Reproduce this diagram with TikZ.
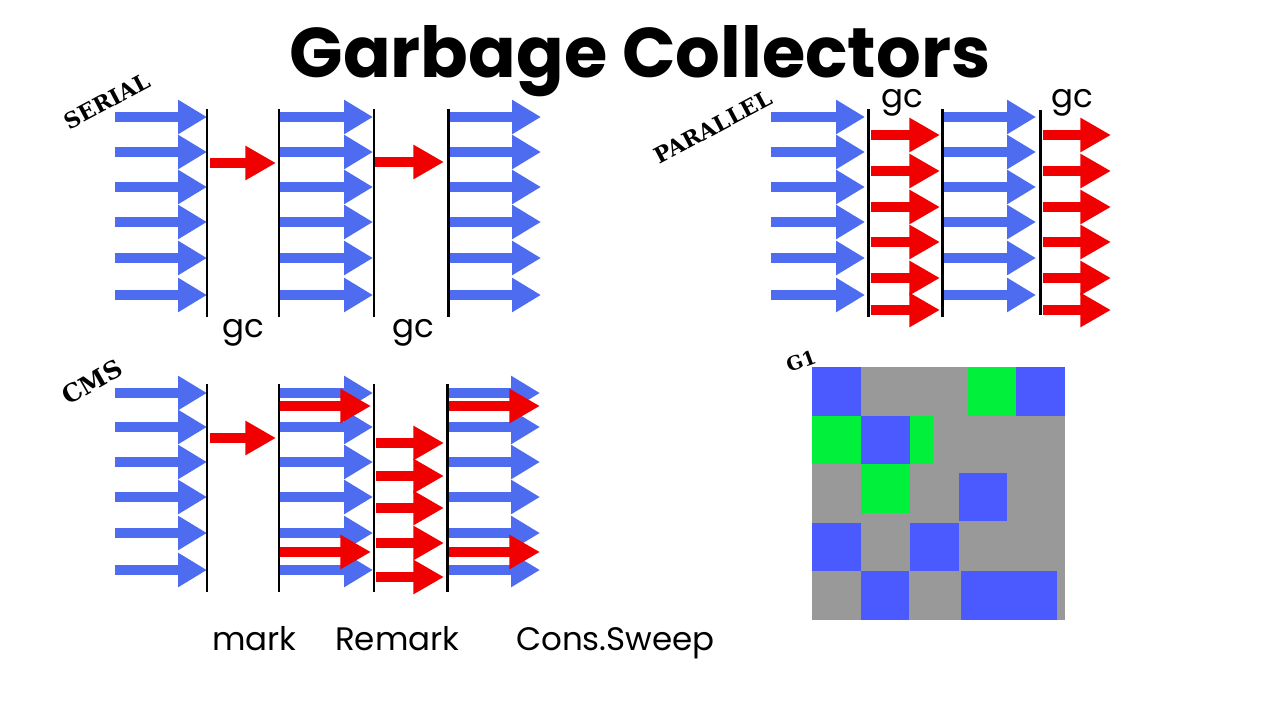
\documentclass[tikz,border=0pt]{standalone}
\usepackage{fontspec}
\setmainfont{Poppins}
\newfontfamily\stampfont{DejaVu Serif}
\usetikzlibrary{arrows.meta}
\definecolor{gcblue}{RGB}{78,108,240}
\definecolor{gcred}{RGB}{240,0,0}
\definecolor{tileblue}{RGB}{74,90,255}
\definecolor{tilegreen}{RGB}{0,240,60}
\definecolor{tilegray}{RGB}{153,153,153}
\begin{document}
\begin{tikzpicture}[x=0.02cm,y=-0.02cm,
  bluearr/.style={gcblue,line width=6.2pt,-{Triangle[length=16.5pt,width=18.5pt]}},
  redarr/.style={gcred,line width=6.2pt,-{Triangle[length=17.5pt,width=18.5pt]}},
  wall/.style={black,line width=1.7pt},
  stamp/.style={font=\stampfont\bfseries\fontsize{12.5}{12.5}\selectfont,rotate=28},
  lbl/.style={font=\fontsize{18.5}{20}\selectfont,anchor=base}]
\useasboundingbox (0,0) rectangle (1280,720);
\node[font=\bfseries\fontsize{40}{44}\selectfont,anchor=base] (title) at (640,77) {Garbage Collectors};
\node[stamp] (serial) at (107,101) {SERIAL};
\node[stamp] (parallel) at (713,127) {PARALLEL};
\node[stamp,rotate=2,font=\stampfont\bfseries\fontsize{14}{14}\selectfont] (cms) at (92,382) {CMS};
\node[stamp,rotate=-8,font=\stampfont\bfseries\fontsize{11}{11}\selectfont] (gone) at (801,361) {G1};
\foreach \y in {117,152,187,222,258,295} {
  \draw[bluearr] (115,\y) -- (207,\y);
  \draw[bluearr] (280,\y) -- (373,\y);
  \draw[bluearr] (448,\y) -- (541,\y);
}
\draw[redarr] (210,163) -- (276,163);
\draw[redarr] (375,162) -- (444,162);
\draw[wall] (207,109) -- (207,317);
\draw[wall] (279,109) -- (279,317);
\draw[wall] (374,109) -- (374,317);
\draw[wall] (448,109) -- (448,317);
\node[lbl] (gcA) at (243,337) {gc};
\node[lbl] (gcB) at (413,337) {gc};
\foreach \y in {117,152,187,222,258,295} {
  \draw[bluearr] (771,\y) -- (865,\y);
  \draw[bluearr] (944,\y) -- (1036,\y);
}
\foreach \y in {135,171,207,242,278,310} {
  \draw[redarr] (871,\y) -- (940,\y);
  \draw[redarr] (1043,\y) -- (1111,\y);
}
\draw[wall] (868,109) -- (868,317);
\draw[wall] (942,109) -- (942,317);
\draw[wall] (1040,110) -- (1040,315);
\node[lbl] (gcC) at (902,107) {gc};
\node[lbl] (gcD) at (1072,107) {gc};
\foreach \y in {393,427,462,497,533,570} {
  \draw[bluearr] (115,\y) -- (207,\y);
  \draw[bluearr] (280,\y) -- (373,\y);
  \draw[bluearr] (448,\y) -- (540,\y);
}
\draw[redarr] (210,438) -- (276,438);
\foreach \y in {406,552} {
  \draw[redarr] (280,\y) -- (371,\y);
  \draw[redarr] (448,\y) -- (540,\y);
}
\foreach \y in {443,476,508,543,577}
  \draw[redarr] (376,\y) -- (444,\y);
\draw[wall] (207,384) -- (207,592);
\draw[wall] (279,384) -- (279,592);
\draw[wall] (374,384) -- (374,592);
\draw[wall] (447,384) -- (447,592);
\node[lbl,anchor=base west] (mark) at (206,650) {mark};
\node[lbl,anchor=base west] (remark) at (329,650) {Remark};
\node[lbl,anchor=base west] (sweep) at (510,650) {Cons.Sweep};
\fill[tilegray] (812,367) rectangle (1065,620);
\fill[tileblue] (812,367) rectangle (861,416);
\fill[tilegreen] (968,367) rectangle (1016,416);
\fill[tileblue] (1016,367) rectangle (1065,416);
\fill[tilegreen] (812,416) rectangle (861,464);
\fill[tileblue] (861,416) rectangle (910,464);
\fill[tilegreen] (910,416) rectangle (933,464);
\fill[tilegreen] (861,464) rectangle (910,513);
\fill[tileblue] (959,473) rectangle (1007,521);
\fill[tileblue] (812,523) rectangle (861,571);
\fill[tileblue] (910,523) rectangle (959,571);
\fill[tileblue] (861,571) rectangle (909,620);
\fill[tileblue] (961,571) rectangle (1057,620);
\end{tikzpicture}
\end{document}
